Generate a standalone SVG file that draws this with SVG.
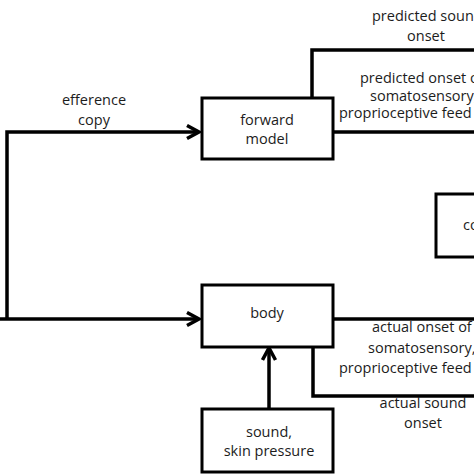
<svg xmlns="http://www.w3.org/2000/svg" width="474" height="474" viewBox="0 0 474 474">
<defs>
<style>
.box{fill:#fff;stroke:#000;stroke-width:3}
.ln{fill:none;stroke:#000;stroke-width:3.5;stroke-linejoin:miter}
text{font-family:"Open Sans","Liberation Sans",sans-serif;font-size:14.5px;fill:#1c1c1c}
.c{text-anchor:middle}
</style>
<marker id="arr" markerUnits="userSpaceOnUse" markerWidth="18" markerHeight="18" refX="14" refY="8" orient="auto">
<path d="M2,1.5 L14,8 L2,14.5" fill="none" stroke="#000" stroke-width="3.5"/>
</marker>
</defs>
<rect width="474" height="474" fill="#fff"/>
<g id="connectors">
<path class="ln" d="M7,319 V132 H199" marker-end="url(#arr)"/>
<path class="ln" d="M0,319 H199" marker-end="url(#arr)"/>
<path class="ln" d="M269,409 V348" marker-end="url(#arr)"/>
<path class="ln" d="M312,97 V50 H474"/>
<path class="ln" d="M333,132 H474"/>
<path class="ln" d="M333,319 H474"/>
<path class="ln" d="M313,347 V396 H474"/>
</g>
<g id="labels">
<text class="c" x="94" y="105">efference</text>
<text class="c" x="94" y="125">copy</text>
<text x="372" y="21">predicted sound</text>
<text class="c" x="426" y="41">onset</text>
<text x="360" y="83">predicted onset of</text>
<text x="370" y="101">somatosensory,</text>
<text x="339" y="118">proprioceptive feed</text>
<text x="372" y="332">actual onset of</text>
<text x="368" y="353">somatosensory,</text>
<text x="339" y="373">proprioceptive feed</text>
<text class="c" x="423" y="408">actual sound</text>
<text class="c" x="423" y="428">onset</text>
</g>
<g id="forward-model">
<rect class="box" x="202" y="98" width="131" height="61"/>
<text class="c" x="267" y="125">forward</text>
<text class="c" x="267" y="144">model</text>
</g>
<g id="body">
<rect class="box" x="202" y="285" width="131" height="62"/>
<text class="c" x="267" y="318">body</text>
</g>
<g id="sound">
<rect class="box" x="202" y="409" width="131" height="63"/>
<text class="c" x="269" y="437">sound,</text>
<text class="c" x="269" y="456">skin pressure</text>
</g>
<g id="comparator">
<rect class="box" x="436" y="194" width="60" height="63"/>
<text x="463" y="230">co</text>
</g>
</svg>
